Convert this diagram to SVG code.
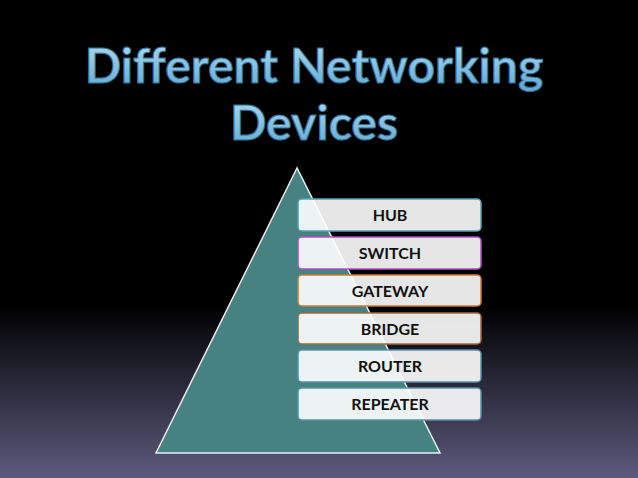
<svg xmlns="http://www.w3.org/2000/svg" width="638" height="478" viewBox="0 0 638 478">
<defs>
<linearGradient id="bg" x1="0" y1="0" x2="0" y2="1">
<stop offset="0" stop-color="#000"/><stop offset="0.64" stop-color="#000"/><stop offset="0.75" stop-color="#1c1c28"/><stop offset="1" stop-color="#5c5a7c"/>
</linearGradient>
<linearGradient id="tt" x1="0" y1="0" x2="0" y2="1">
<stop offset="0" stop-color="#b4def4"/><stop offset="1" stop-color="#5fa6d0"/>
</linearGradient>
</defs>
<style>
.t{font-family:Lato,"Open Sans","Liberation Sans",sans-serif;font-weight:bold;font-size:48px;fill:url(#tt);stroke:#2e6f96;stroke-width:1;text-anchor:middle}
.b{fill:#fff;fill-opacity:0.9;stroke-width:1.5}
.l{font-family:Lato,"Open Sans","Liberation Sans",sans-serif;font-size:16px;font-weight:bold;fill:#111;text-anchor:middle}
</style>
<rect width="638" height="478" fill="url(#bg)"/>
<g id="title">
<text class="t" x="314" y="83">Different Networking</text>
<text class="t" x="314" y="140">Devices</text>
</g>
<g id="pyramid"><polygon points="297,168 156,453 440,453" fill="#468282" stroke="#e8eeee" stroke-width="1.5"/></g>
<g id="hub"><rect class="b" x="298" y="199" width="183" height="32" rx="4" stroke="#5aa0b0"/><text class="l" x="390" y="221">HUB</text></g>
<g id="switch"><rect class="b" x="298" y="237" width="183" height="32" rx="4" stroke="#b050c0"/><text class="l" x="390" y="259">SWITCH</text></g>
<g id="gateway"><rect class="b" x="298" y="275" width="183" height="31" rx="4" stroke="#d07838"/><text class="l" x="390" y="297">GATEWAY</text></g>
<g id="bridge"><rect class="b" x="298" y="313" width="183" height="31" rx="4" stroke="#a06840"/><text class="l" x="390" y="335">BRIDGE</text></g>
<g id="router"><rect class="b" x="298" y="350" width="183" height="32" rx="4" stroke="#5a90a8"/><text class="l" x="390" y="372">ROUTER</text></g>
<g id="repeater"><rect class="b" x="298" y="388" width="183" height="32" rx="4" stroke="#5a90a8"/><text class="l" x="390" y="410">REPEATER</text></g>
<g id="connectors"/>
</svg>
